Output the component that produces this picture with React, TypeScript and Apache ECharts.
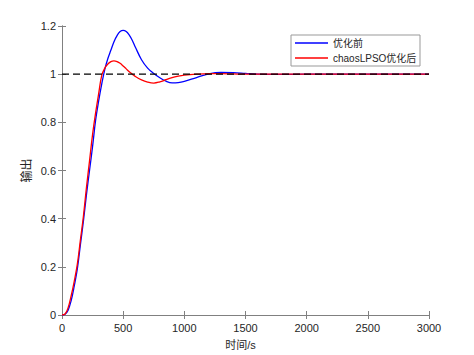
import React, { useEffect, useRef } from "react";
import * as echarts from "echarts";

const timeSec = [0, 25, 50, 75, 100, 125, 150, 175, 200, 225, 250, 275, 300, 325, 350, 375, 400, 425, 450, 475, 500, 525, 550, 575, 600, 650, 700, 750, 800, 850, 900, 950, 1000, 1100, 1200, 1300, 1400, 1500, 1600, 1800, 2000, 2500, 3000];
const beforeOpt = [0, 0.003, 0.02, 0.06, 0.12, 0.19, 0.29, 0.39, 0.5, 0.6, 0.7, 0.81, 0.89, 0.96, 1.02, 1.065, 1.1, 1.135, 1.16, 1.177, 1.182, 1.177, 1.162, 1.14, 1.112, 1.06, 1.025, 1.003, 0.985, 0.971, 0.964, 0.965, 0.97, 0.986, 1.001, 1.007, 1.006, 1.003, 1.0, 0.999, 1.0, 1.0, 1.0];
const afterOpt = [0, 0.004, 0.03, 0.08, 0.14, 0.21, 0.31, 0.41, 0.53, 0.64, 0.75, 0.84, 0.92, 0.995, 1.025, 1.042, 1.052, 1.055, 1.052, 1.045, 1.034, 1.022, 1.01, 1.0, 0.99, 0.976, 0.967, 0.963, 0.968, 0.977, 0.986, 0.992, 0.996, 1.0, 1.002, 1.002, 1.001, 1.0, 1.0, 1.0, 1.0, 1.0, 1.0];
const refLevel = 1;
const seriesNames = ["优化前", "chaosLPSO优化后"];
const xTicks = { min: 0, max: 3000, interval: 500 };
const yTicks = { min: 0, max: 1.2, interval: 0.2 };

const FONT = "'Liberation Sans', Arial, 'Noto Sans CJK SC', sans-serif";
const AXIS_COLOR = "#808080";
const TEXT_COLOR = "#262626";

export default function App() {
  const ref = useRef<HTMLDivElement>(null);
  useEffect(() => {
    if (!ref.current) return;
    const chart = echarts.init(ref.current, null, { renderer: "svg" });
    const axisCommon = {
      type: "value" as const,
      axisLine: { show: true, lineStyle: { color: AXIS_COLOR, width: 1 } },
      axisTick: { show: true, inside: true, length: 4, lineStyle: { color: AXIS_COLOR } },
      splitLine: { show: false },
    };
    chart.setOption({
      animation: false,
      backgroundColor: "#ffffff",
      grid: { left: 62, right: 45, top: 26, bottom: 39 },
      xAxis: [
        {
          ...axisCommon,
          ...xTicks,
          position: "bottom",
          axisLabel: { color: TEXT_COLOR, fontSize: 11, fontFamily: FONT, margin: 7, formatter: (v: number) => String(v) },
          name: "时间/s",
          nameLocation: "middle",
          nameGap: 24,
          nameTextStyle: { color: TEXT_COLOR, fontSize: 11, fontFamily: FONT, padding: [0, 10, 0, 0] },
        },
        { ...axisCommon, ...xTicks, position: "top", axisLabel: { show: false } },
      ],
      yAxis: [
        {
          ...axisCommon,
          ...yTicks,
          position: "left",
          axisLabel: { color: TEXT_COLOR, fontSize: 11, fontFamily: FONT, margin: 6, formatter: (v: number) => String(Math.round(v * 10) / 10) },
          name: "输出",
          nameLocation: "middle",
          nameGap: 29,
          nameMoveOverlap: false,
          nameRotate: 90,
          nameTextStyle: { color: TEXT_COLOR, fontSize: 12, fontFamily: FONT },
        },
        { ...axisCommon, ...yTicks, position: "right", axisLabel: { show: false } },
      ],
      graphic: [
        {
          type: "rect",
          shape: { x: 291, y: 35, width: 129, height: 31 },
          style: { fill: "#ffffff", stroke: "#999999", lineWidth: 1 },
          z: 10,
        },
      ],
      legend: {
        data: seriesNames,
        orient: "vertical",
        left: 295,
        top: 37,
        icon: "rect",
        itemWidth: 33,
        itemHeight: 1.5,
        itemGap: 3,
        padding: 0,
        z: 20,
        textStyle: { color: TEXT_COLOR, fontSize: 10, fontFamily: FONT, lineHeight: 12 },
      },
      series: [
        {
          name: seriesNames[0],
          type: "line",
          data: timeSec.map((t, i) => [t, beforeOpt[i]]),
          smooth: 0.4,
          symbol: "none",
          lineStyle: { color: "#0000ff", width: 1.3 },
          itemStyle: { color: "#0000ff" },
          z: 2,
        },
        {
          name: seriesNames[1],
          type: "line",
          data: timeSec.map((t, i) => [t, afterOpt[i]]),
          smooth: 0.4,
          symbol: "none",
          lineStyle: { color: "#ff0000", width: 1.3 },
          itemStyle: { color: "#ff0000" },
          z: 3,
        },
        {
          name: "ref",
          type: "line",
          data: [[xTicks.min, refLevel], [xTicks.max, refLevel]],
          symbol: "none",
          lineStyle: { color: "#000000", width: 1.3, type: [7, 4] },
          z: 4,
        },
      ],
    });
    return () => chart.dispose();
  }, []);
  return <div ref={ref} style={{ width: 474, height: 355, position: "absolute", left: 0, top: 0 }} />;
}
